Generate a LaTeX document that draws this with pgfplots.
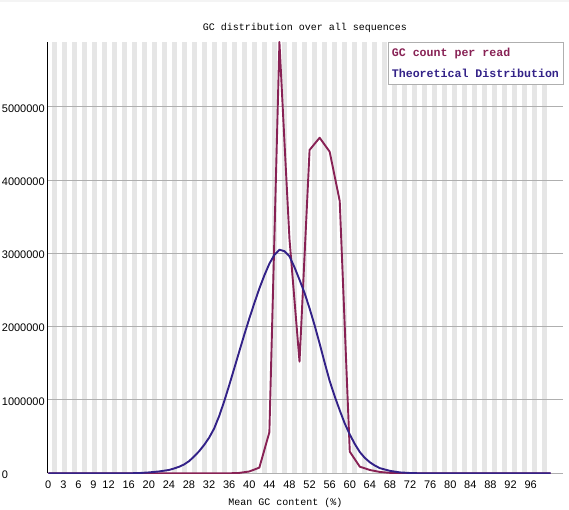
\documentclass[border=0pt]{standalone}
\usepackage{pgfplots}
\pgfplotsset{compat=1.18}
\usepackage{fontspec}
\setmainfont{Liberation Sans}
\newfontfamily\monofont{Liberation Mono}
\definecolor{fqred}{RGB}{136,34,85}
\definecolor{fqblue}{RGB}{51,34,136}
\definecolor{stripe}{RGB}{230,230,230}
\definecolor{gridc}{RGB}{175,175,175}
\definecolor{topband}{RGB}{244,244,244}
\begin{document}
\begin{tikzpicture}[x=1pt,y=1pt]
\useasboundingbox (0,0) rectangle (569,510);
\fill[white] (0,0) rectangle (569,510);
\fill[topband] (0,508.3) rectangle (569,510);
% alternating category bands
\foreach \k in {0,...,49} {
  \fill[stripe] ({51.7+10*\k},36.7) rectangle ({56.7+10*\k},468);
}
\begin{axis}[
  at={(47.5pt,36.7pt)}, anchor=south west,
  width=515.8pt, height=431.3pt, scale only axis,
  xmin=-0.159, xmax=102.5, ymin=0, ymax=5884000,
  axis x line*=bottom, axis y line*=left,
  x axis line style={-, draw=gridc, line width=1pt},
  y axis line style={-, draw=black, line width=1pt},
  major tick length=0pt, tick style={draw=none},
  xtick={0,3,6,9,12,16,20,24,28,32,36,40,44,48,52,56,60,64,68,72,76,80,84,88,92,96},
  xticklabels={0,3,6,9,12,16,20,24,28,32,36,40,44,48,52,56,60,64,68,72,76,80,84,88,92,96},
  ytick={0,1000000,2000000,3000000,4000000,5000000},
  yticklabels={0,1000000,2000000,3000000,4000000,5000000},
  scaled ticks=false,
  xticklabel style={anchor=center, inner sep=0pt, yshift=-11pt, font=\fontsize{11}{13}\selectfont},
  yticklabel style={anchor=west, inner sep=0pt, xshift=-45.8pt, yshift=-1.5pt, font=\fontsize{11}{13}\selectfont},
  ymajorgrids, grid style={draw=gridc, line width=1pt},
  clip=true,
]
\addplot[fqred, line width=1.9pt, line join=round] coordinates {
(0,0) (36,0) (38,5000) (40,25000) (42,77000) (44,560000) (45,3220000)
(46,5884000) (47,4524000) (48,3196000) (50,1522000) (52,4411000)
(54,4578000) (56,4387000) (58,3715000) (60,295000) (62,90000)
(64,45000) (66,18000) (68,6000) (70,1000) (72,0) (100,0)
};
\addplot[fqblue, line width=1.9pt, line join=round] coordinates {
(0,0) (16,0) (18,3000) (20,12000) (22,25000) (24,45000) (25,65000)
(26,88000) (27,120000) (28,165000) (29,228000) (30,300000) (31,385000)
(32,485000) (33,610000) (34,780000) (35,980000) (36,1200000)
(37,1430000) (38,1660000) (39,1890000) (40,2110000) (41,2320000)
(42,2520000) (43,2700000) (44,2860000) (45,2980000) (46,3050000)
(47,3030000) (48,2960000) (49,2810000) (50,2640000) (51,2460000)
(52,2250000) (53,2020000) (54,1770000) (55,1510000) (56,1260000)
(57,1050000) (58,860000) (59,680000) (60,530000) (61,400000)
(62,290000) (63,210000) (64,150000) (65,105000) (66,70000) (68,33000)
(70,12000) (72,4000) (74,0) (100,0)
};
\end{axis}
% title and axis label
\node[font=\monofont\fontsize{10}{12}\selectfont, inner sep=0pt] at (305,481.7) {GC distribution over all sequences};
\node[font=\monofont\fontsize{10}{12}\selectfont, inner sep=0pt] at (285.3,6.7) {Mean GC content (\%)};
% legend
\draw[gridc, line width=1pt, fill=white] (388.3,425) rectangle (563.3,467.7);
\node[anchor=west, inner sep=0pt, text=fqred, font=\monofont\bfseries\fontsize{11.6}{13}\selectfont] at (391.7,456.7) {GC count per read};
\node[anchor=west, inner sep=0pt, text=fqblue, font=\monofont\bfseries\fontsize{11.6}{13}\selectfont] at (391.7,436.7) {Theoretical Distribution};
\end{tikzpicture}
\end{document}
